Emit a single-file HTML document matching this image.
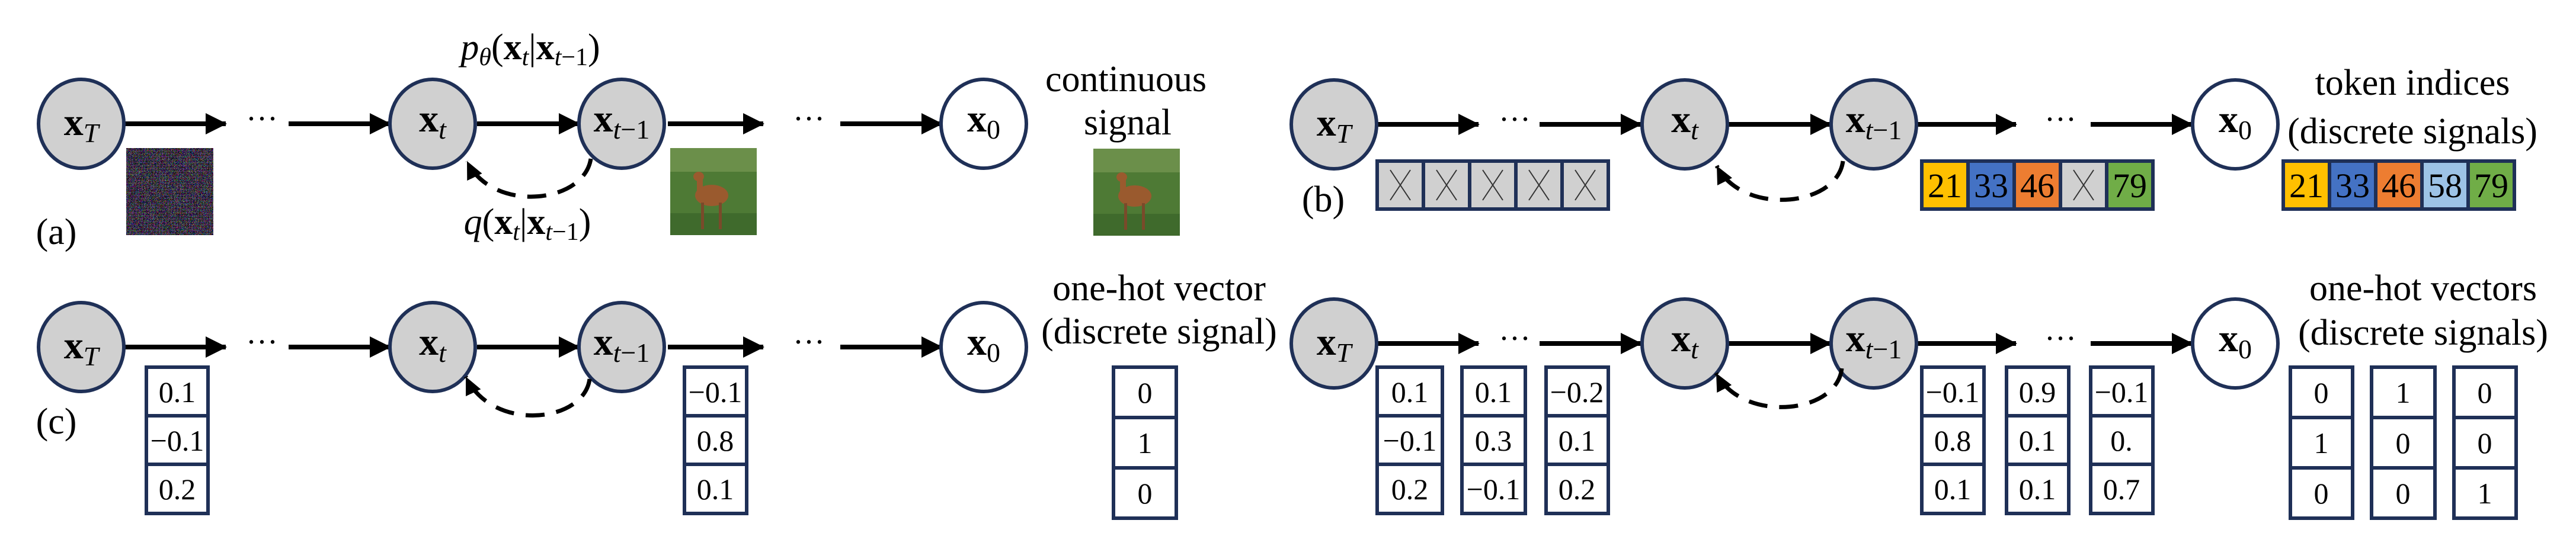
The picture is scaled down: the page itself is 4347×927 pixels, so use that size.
<!DOCTYPE html>
<html><head><meta charset="utf-8"><style>
html,body{margin:0;padding:0;background:#fff}
svg{display:block}
text{font-family:"Liberation Serif",serif;fill:#000}
</style></head><body>
<svg width="4347" height="927" viewBox="0 0 4347 927" xmlns="http://www.w3.org/2000/svg">
<defs>
<marker id="ah" markerUnits="userSpaceOnUse" markerWidth="40" markerHeight="40" refX="34" refY="18" orient="auto">
<path d="M0,0 L36,18 L0,36 Z" fill="#000"/></marker>
<marker id="ah2" markerUnits="userSpaceOnUse" markerWidth="40" markerHeight="40" refX="30" refY="14" orient="auto">
<path d="M0,0 L30,14 L0,28 Z" fill="#000"/></marker>
<filter id="noise" x="0" y="0" width="100%" height="100%"><feTurbulence type="turbulence" baseFrequency="1.2" numOctaves="1" seed="3"/><feColorMatrix values="2.2 0 0 0 -0.35  0 2.2 0 0 -0.4  0 0 2.2 0 -0.3  0 0 0 0 1"/></filter>
<g id="deer">
<rect width="146" height="147" fill="#4e7a35"/>
<rect y="0" width="146" height="40" fill="#6b8f4a"/>
<rect y="110" width="146" height="37" fill="#3f6a2c"/>
<ellipse cx="70" cy="80" rx="28" ry="18" fill="#9a5a2e"/>
<rect x="45" y="50" width="10" height="28" fill="#9a5a2e"/>
<ellipse cx="48" cy="48" rx="9" ry="8" fill="#9a5a2e"/>
<rect x="52" y="92" width="5" height="45" fill="#7a4a2a"/><rect x="82" y="92" width="5" height="45" fill="#7a4a2a"/>
</g>
</defs>

<g fill="none" stroke="#000" stroke-width="8">
<line x1="210" y1="209" x2="381" y2="209" marker-end="url(#ah)"/>
<line x1="487" y1="209" x2="658" y2="209" marker-end="url(#ah)"/>
<line x1="805" y1="209" x2="977" y2="209" marker-end="url(#ah)"/>
<line x1="1127" y1="209" x2="1288" y2="209" marker-end="url(#ah)"/>
<line x1="1418" y1="209" x2="1589" y2="209" marker-end="url(#ah)"/>
<line x1="210" y1="586" x2="381" y2="586" marker-end="url(#ah)"/>
<line x1="487" y1="586" x2="658" y2="586" marker-end="url(#ah)"/>
<line x1="805" y1="586" x2="977" y2="586" marker-end="url(#ah)"/>
<line x1="1127" y1="586" x2="1288" y2="586" marker-end="url(#ah)"/>
<line x1="1418" y1="586" x2="1589" y2="586" marker-end="url(#ah)"/>
<line x1="2324" y1="210" x2="2495" y2="210" marker-end="url(#ah)"/>
<line x1="2598" y1="210" x2="2769" y2="210" marker-end="url(#ah)"/>
<line x1="2916" y1="210" x2="3089" y2="210" marker-end="url(#ah)"/>
<line x1="3236" y1="210" x2="3402" y2="210" marker-end="url(#ah)"/>
<line x1="3528" y1="210" x2="3699" y2="210" marker-end="url(#ah)"/>
<line x1="2324" y1="580" x2="2495" y2="580" marker-end="url(#ah)"/>
<line x1="2598" y1="580" x2="2769" y2="580" marker-end="url(#ah)"/>
<line x1="2916" y1="580" x2="3089" y2="580" marker-end="url(#ah)"/>
<line x1="3236" y1="580" x2="3402" y2="580" marker-end="url(#ah)"/>
<line x1="3528" y1="580" x2="3699" y2="580" marker-end="url(#ah)"/>
</g>
<g font-size="54" text-anchor="middle">
<text x="442" y="218">···</text><text x="1365" y="218">···</text>
<text x="442" y="595">···</text><text x="1365" y="595">···</text>
<text x="2556" y="219">···</text><text x="3477" y="219">···</text>
<text x="2556" y="589">···</text><text x="3477" y="589">···</text>
</g>

<g stroke="#1f3057" stroke-width="6">
<ellipse cx="137" cy="209" rx="72" ry="75" fill="#d0d0d0"/>
<ellipse cx="730" cy="209" rx="72" ry="75" fill="#d0d0d0"/>
<ellipse cx="1049" cy="209" rx="72" ry="75" fill="#d0d0d0"/>
<ellipse cx="1660" cy="209" rx="72" ry="75" fill="#fff"/>
<ellipse cx="137" cy="586" rx="72" ry="75" fill="#d0d0d0"/>
<ellipse cx="730" cy="586" rx="72" ry="75" fill="#d0d0d0"/>
<ellipse cx="1049" cy="586" rx="72" ry="75" fill="#d0d0d0"/>
<ellipse cx="1660" cy="586" rx="72" ry="75" fill="#fff"/>
<ellipse cx="2251" cy="210" rx="72" ry="75" fill="#d0d0d0"/>
<ellipse cx="2843" cy="210" rx="72" ry="75" fill="#d0d0d0"/>
<ellipse cx="3162" cy="210" rx="72" ry="75" fill="#d0d0d0"/>
<ellipse cx="3772" cy="210" rx="72" ry="75" fill="#fff"/>
<ellipse cx="2251" cy="580" rx="72" ry="75" fill="#d0d0d0"/>
<ellipse cx="2843" cy="580" rx="72" ry="75" fill="#d0d0d0"/>
<ellipse cx="3162" cy="580" rx="72" ry="75" fill="#d0d0d0"/>
<ellipse cx="3772" cy="580" rx="72" ry="75" fill="#fff"/>
</g>
<g font-size="66" text-anchor="middle">
<text x="137" y="228"><tspan font-weight="bold">x</tspan><tspan font-style="italic" font-size="46" dy="12">T</tspan></text>
<text x="730" y="222"><tspan font-weight="bold">x</tspan><tspan font-style="italic" font-size="46" dy="12">t</tspan></text>
<text x="1049" y="222"><tspan font-weight="bold">x</tspan><tspan font-style="italic" font-size="46" dy="12">t</tspan><tspan font-size="46">−1</tspan></text>
<text x="1660" y="222"><tspan font-weight="bold">x</tspan><tspan font-size="46" dy="12">0</tspan></text>
<text x="137" y="605"><tspan font-weight="bold">x</tspan><tspan font-style="italic" font-size="46" dy="12">T</tspan></text>
<text x="730" y="599"><tspan font-weight="bold">x</tspan><tspan font-style="italic" font-size="46" dy="12">t</tspan></text>
<text x="1049" y="599"><tspan font-weight="bold">x</tspan><tspan font-style="italic" font-size="46" dy="12">t</tspan><tspan font-size="46">−1</tspan></text>
<text x="1660" y="599"><tspan font-weight="bold">x</tspan><tspan font-size="46" dy="12">0</tspan></text>
<text x="2251" y="229"><tspan font-weight="bold">x</tspan><tspan font-style="italic" font-size="46" dy="12">T</tspan></text>
<text x="2843" y="223"><tspan font-weight="bold">x</tspan><tspan font-style="italic" font-size="46" dy="12">t</tspan></text>
<text x="3162" y="223"><tspan font-weight="bold">x</tspan><tspan font-style="italic" font-size="46" dy="12">t</tspan><tspan font-size="46">−1</tspan></text>
<text x="3772" y="223"><tspan font-weight="bold">x</tspan><tspan font-size="46" dy="12">0</tspan></text>
<text x="2251" y="599"><tspan font-weight="bold">x</tspan><tspan font-style="italic" font-size="46" dy="12">T</tspan></text>
<text x="2843" y="593"><tspan font-weight="bold">x</tspan><tspan font-style="italic" font-size="46" dy="12">t</tspan></text>
<text x="3162" y="593"><tspan font-weight="bold">x</tspan><tspan font-style="italic" font-size="46" dy="12">t</tspan><tspan font-size="46">−1</tspan></text>
<text x="3772" y="593"><tspan font-weight="bold">x</tspan><tspan font-size="46" dy="12">0</tspan></text>
</g>

<g fill="none" stroke="#000" stroke-width="7" stroke-dasharray="32 20">
<path d="M997,268 C985,345 830,360 788,272" marker-end="url(#ah2)"/>
<path d="M995,640 C985,715 830,730 786,636" marker-end="url(#ah2)"/>
<path d="M3110,272 C3100,350 2940,365 2897,280" marker-end="url(#ah2)"/>
<path d="M3108,622 C3100,700 2940,715 2896,630" marker-end="url(#ah2)"/>
</g>

<g font-size="62" text-anchor="middle">
<text x="895" y="100"><tspan font-style="italic">p</tspan><tspan font-style="italic" font-size="42" dy="10">θ</tspan><tspan dy="-10">(</tspan><tspan font-weight="bold">x</tspan><tspan font-style="italic" font-size="42" dy="10">t</tspan><tspan dy="-10">|</tspan><tspan font-weight="bold">x</tspan><tspan font-style="italic" font-size="42" dy="10">t</tspan><tspan font-size="42">−1</tspan><tspan dy="-10">)</tspan></text>
<text x="890" y="395"><tspan font-style="italic">q</tspan>(<tspan font-weight="bold">x</tspan><tspan font-style="italic" font-size="42" dy="10">t</tspan><tspan dy="-10">|</tspan><tspan font-weight="bold">x</tspan><tspan font-style="italic" font-size="42" dy="10">t</tspan><tspan font-size="42">−1</tspan><tspan dy="-10">)</tspan></text>
<text x="95" y="412">(a)</text>
<text x="95" y="732">(c)</text>
<text x="2233" y="357">(b)</text>
<text x="1900" y="154">continuous</text>
<text x="1903" y="227">signal</text>
<text x="1956" y="507">one-hot vector</text>
<text x="1956" y="580">(discrete signal)</text>
<text x="4071" y="160">token indices</text>
<text x="4071" y="242">(discrete signals)</text>
<text x="4089" y="507">one-hot vectors</text>
<text x="4089" y="582">(discrete signals)</text>
</g>

<rect x="213" y="250" width="147" height="147" fill="#555" filter="url(#noise)"/>
<use href="#deer" x="1131" y="250"/>
<use href="#deer" x="1845" y="251"/>

<g stroke="#1f3057" stroke-width="6">
<rect x="2324" y="272" width="78" height="81" fill="#d0d0d0"/>
<rect x="2402" y="272" width="78" height="81" fill="#d0d0d0"/>
<rect x="2480" y="272" width="78" height="81" fill="#d0d0d0"/>
<rect x="2558" y="272" width="78" height="81" fill="#d0d0d0"/>
<rect x="2636" y="272" width="78" height="81" fill="#d0d0d0"/>
<rect x="3243" y="272" width="78" height="81" fill="#ffc000"/>
<rect x="3321" y="272" width="78" height="81" fill="#4472c4"/>
<rect x="3399" y="272" width="78" height="81" fill="#ed7d31"/>
<rect x="3477" y="272" width="78" height="81" fill="#d0d0d0"/>
<rect x="3555" y="272" width="78" height="81" fill="#70ad47"/>
<rect x="3853" y="272" width="78" height="81" fill="#ffc000"/>
<rect x="3931" y="272" width="78" height="81" fill="#4472c4"/>
<rect x="4009" y="272" width="78" height="81" fill="#ed7d31"/>
<rect x="4087" y="272" width="78" height="81" fill="#9dc3e6"/>
<rect x="4165" y="272" width="78" height="81" fill="#70ad47"/>
</g>
<g stroke="#333" stroke-width="2">
<path d="M2346,287 L2380,338 M2380,287 L2346,338"/>
<path d="M2424,287 L2458,338 M2458,287 L2424,338"/>
<path d="M2502,287 L2536,338 M2536,287 L2502,338"/>
<path d="M2580,287 L2614,338 M2614,287 L2580,338"/>
<path d="M2658,287 L2692,338 M2692,287 L2658,338"/>
<path d="M3499,287 L3533,338 M3533,287 L3499,338"/>
</g>
<g font-size="58" text-anchor="middle">
<text x="3282" y="333">21</text><text x="3360" y="333">33</text><text x="3438" y="333">46</text><text x="3594" y="333">79</text>
<text x="3892" y="333">21</text><text x="3970" y="333">33</text><text x="4048" y="333">46</text><text x="4126" y="333">58</text><text x="4204" y="333">79</text>
</g>

<g stroke="#1f3057" stroke-width="6" fill="#fff">
<rect x="247" y="620" width="104" height="82"/><rect x="247" y="702" width="104" height="82"/><rect x="247" y="784" width="104" height="83"/>
<rect x="1155" y="620" width="105" height="82"/><rect x="1155" y="702" width="105" height="82"/><rect x="1155" y="784" width="105" height="83"/>
<rect x="1879" y="620" width="106" height="85"/><rect x="1879" y="705" width="106" height="85"/><rect x="1879" y="790" width="106" height="85"/>
<rect x="2324" y="620" width="110" height="82"/><rect x="2324" y="702" width="110" height="82"/><rect x="2324" y="784" width="110" height="83"/>
<rect x="2467" y="620" width="107" height="82"/><rect x="2467" y="702" width="107" height="82"/><rect x="2467" y="784" width="107" height="83"/>
<rect x="2609" y="620" width="105" height="82"/><rect x="2609" y="702" width="105" height="82"/><rect x="2609" y="784" width="105" height="83"/>
<rect x="3243" y="620" width="105" height="82"/><rect x="3243" y="702" width="105" height="82"/><rect x="3243" y="784" width="105" height="83"/>
<rect x="3386" y="620" width="105" height="82"/><rect x="3386" y="702" width="105" height="82"/><rect x="3386" y="784" width="105" height="83"/>
<rect x="3528" y="620" width="105" height="82"/><rect x="3528" y="702" width="105" height="82"/><rect x="3528" y="784" width="105" height="83"/>
<rect x="3865" y="620" width="105" height="85"/><rect x="3865" y="705" width="105" height="85"/><rect x="3865" y="790" width="105" height="85"/>
<rect x="4002" y="620" width="107" height="85"/><rect x="4002" y="705" width="107" height="85"/><rect x="4002" y="790" width="107" height="85"/>
<rect x="4141" y="620" width="105" height="85"/><rect x="4141" y="705" width="105" height="85"/><rect x="4141" y="790" width="105" height="85"/>
</g>
<g font-size="50" text-anchor="middle">
<text x="299" y="679">0.1</text><text x="299" y="761">−0.1</text><text x="299" y="843">0.2</text>
<text x="1207" y="679">−0.1</text><text x="1207" y="761">0.8</text><text x="1207" y="843">0.1</text>
<text x="1932" y="680">0</text><text x="1932" y="765">1</text><text x="1932" y="850">0</text>
<text x="2379" y="679">0.1</text><text x="2379" y="761">−0.1</text><text x="2379" y="843">0.2</text>
<text x="2520" y="679">0.1</text><text x="2520" y="761">0.3</text><text x="2520" y="843">−0.1</text>
<text x="2661" y="679">−0.2</text><text x="2661" y="761">0.1</text><text x="2661" y="843">0.2</text>
<text x="3295" y="679">−0.1</text><text x="3295" y="761">0.8</text><text x="3295" y="843">0.1</text>
<text x="3438" y="679">0.9</text><text x="3438" y="761">0.1</text><text x="3438" y="843">0.1</text>
<text x="3580" y="679">−0.1</text><text x="3580" y="761">0.</text><text x="3580" y="843">0.7</text>
<text x="3917" y="680">0</text><text x="3917" y="765">1</text><text x="3917" y="850">0</text>
<text x="4055" y="680">1</text><text x="4055" y="765">0</text><text x="4055" y="850">0</text>
<text x="4193" y="680">0</text><text x="4193" y="765">0</text><text x="4193" y="850">1</text>
</g>
</svg>
</body></html>
